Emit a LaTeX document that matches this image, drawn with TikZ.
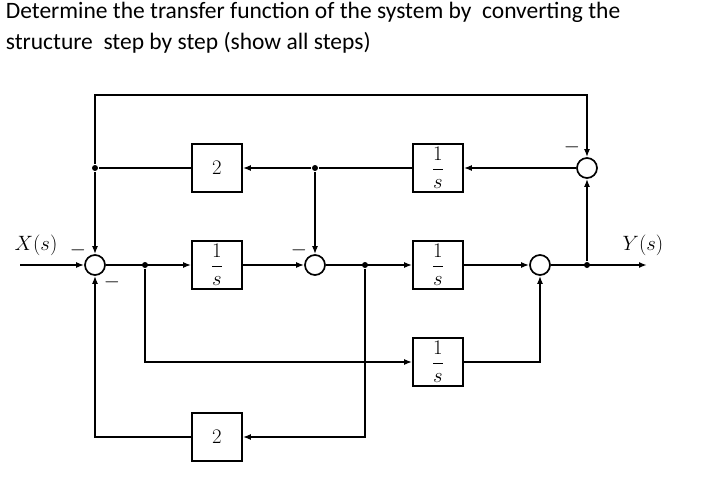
\documentclass[tikz,border=0pt]{standalone}
\usepackage{fontspec}
\newfontfamily\titlefont{Carlito}
\usetikzlibrary{arrows.meta}
\begin{document}
\begin{tikzpicture}[x=1pt,y=-1pt,line width=1.7pt,
  blk/.style={draw,minimum width=50pt,minimum height=48pt,inner sep=0pt,font=\fontsize{21}{24}\selectfont},
  sumn/.style={draw,circle,minimum size=20pt,inner sep=0pt},
  dotn/.style={circle,fill,inner sep=0pt,minimum size=6pt},
  arr/.style={-{Latex[length=8pt,width=6pt]}},
  sgn/.style={font=\fontsize{20}{20}\selectfont}]
\useasboundingbox (0,0) rectangle (702,493);
\node[anchor=north west,align=left,font=\titlefont\fontsize{23.5}{31}\selectfont,inner sep=0pt] (title) at (5,1)
 {Determine the transfer function of the system by\ \ converting the\\structure\ \ step by step (show all steps)};
% nodes
\node[sumn] (s1) at (95,265) {};
\node[sumn] (s2) at (315,265) {};
\node[sumn] (s3) at (540,265) {};
\node[sumn] (s4) at (587,168) {};
\node[blk] (g1) at (217,265) {$\displaystyle\frac{1}{s}$};
\node[blk] (g2) at (217,168) {$2$};
\node[blk] (g3) at (438,265) {$\displaystyle\frac{1}{s}$};
\node[blk] (g4) at (438,168) {$\displaystyle\frac{1}{s}$};
\node[blk] (g5) at (438,362) {$\displaystyle\frac{1}{s}$};
\node[blk] (g6) at (217,437) {$2$};
\node[dotn] (d1) at (145,265) {};
\node[dotn] (d2) at (365,265) {};
\node[dotn] (d3) at (587,265) {};
\node[dotn] (d4) at (315,168) {};
\node[dotn] (d5) at (95,168) {};
\coordinate (in) at (20,265);
\coordinate (out) at (647,265);
\node[font=\fontsize{20}{20}\selectfont] (xl) at (36,245) {$X(s)$};
\node[font=\fontsize{20}{20}\selectfont] (yl) at (643,245) {$Y(s)$};
\node[sgn] (m1) at (78,250) {$-$};
\node[sgn] (m2) at (112,282) {$-$};
\node[sgn] (m3) at (299,250) {$-$};
\node[sgn] (m4) at (572,147) {$-$};
% forward
\draw[arr] (in) -- (s1);
\draw[arr] (s1) -- (g1);
\draw[arr] (g1) -- (s2);
\draw[arr] (s2) -- (g3);
\draw[arr] (g3) -- (s3);
\draw[arr] (s3) -- (out);
% upper loop
\draw[arr] (d3) -- (s4);
\draw[arr] (s4) -- (g4);
\draw (g4) -- (d4);
\draw[arr] (d4) -- (g2);
\draw (g2) -- (d5);
\draw[arr] (d4) -- (s2);
\draw[arr] (d5) -- (s1);
\draw[arr] (d5) -- (95,95) -| (s4);
% lower paths
\draw[arr] (d1) |- (g5);
\draw[arr] (g5) -| (s3);
\draw[arr] (d2) |- (g6);
\draw[arr] (g6) -| (s1);
\end{tikzpicture}
\end{document}
